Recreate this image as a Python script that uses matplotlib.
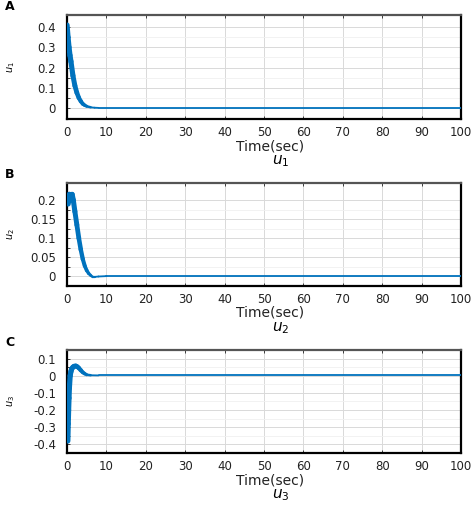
import matplotlib
matplotlib.use("Agg")
import matplotlib.pyplot as plt
from matplotlib.collections import LineCollection
import numpy as np

# control inputs (time in seconds)
t1 = [0, 0.25, 0.5, 0.75, 1, 1.5, 2, 2.5, 3, 3.5, 4, 4.5, 5, 6, 7, 8, 100]
u1 = [0.41, 0.35, 0.30, 0.26, 0.23, 0.16, 0.11, 0.075, 0.05, 0.033, 0.02,
      0.013, 0.008, 0.003, 0.001, 0.0, 0.0]

t2 = [0.3, 0.45, 0.6, 0.75, 0.9, 1.1, 1.3, 1.6, 2, 2.5, 3, 3.5, 4, 4.5, 5,
      5.5, 6, 6.5, 7, 8, 10, 100]
u2 = [0.19, 0.205, 0.215, 0.208, 0.20, 0.207, 0.215, 0.20, 0.17, 0.135,
      0.10, 0.07, 0.045, 0.027, 0.015, 0.007, 0.002, -0.002, -0.002,
      -0.001, 0.0, 0.0]

t3 = [0.2, 0.3, 0.4, 0.5, 0.6, 0.8, 1.0, 1.2, 1.5, 1.8, 2.2, 2.6, 3.0, 3.5,
      4.0, 4.5, 5, 6, 8, 100]
u3 = [-0.38, -0.28, -0.20, -0.13, -0.07, 0.0, 0.025, 0.04, 0.05, 0.055,
      0.057, 0.053, 0.045, 0.032, 0.02, 0.012, 0.006, 0.003, 0.002, 0.002]

# (letter, time, values, end of thick transient [s], ylim, yticks, labels, minor step, name)
series = [
    ("A", t1, u1, 6.0, (-0.055, 0.46), [0, 0.1, 0.2, 0.3, 0.4],
     ["0", "0.1", "0.2", "0.3", "0.4"], 0.05, "u_1"),
    ("B", t2, u2, 7.0, (-0.026, 0.245), [0, 0.05, 0.1, 0.15, 0.2],
     ["0", "0.05", "0.1", "0.15", "0.2"], 0.025, "u_2"),
    ("C", t3, u3, 6.0, (-0.438, 0.122), [-0.4, -0.3, -0.2, -0.1, 0, 0.1],
     ["-0.4", "-0.3", "-0.2", "-0.1", "0", "0.1"], 0.05, "u_3"),
]

xticks = list(range(0, 101, 10))
blue = "#0072BD"

fig = plt.figure(figsize=(4.74, 5.14), dpi=100)
W, H = 474, 514
# axes boxes in pixels: (top, bottom)
boxes = [(15, 119), (183, 286), (350, 453)]
left_px, right_px = 67, 461

for (letter, t, u, tcut, ylim, yt, ytl, minor, name), (top, bot) in zip(series, boxes):
    ax = fig.add_axes([left_px / W, 1 - bot / H, (right_px - left_px) / W,
                       (bot - top) / H])
    t = np.asarray(t, dtype=float)
    u = np.asarray(u, dtype=float)
    # thick transient that thins out towards the steady state
    pts = np.column_stack([t, u])
    segs = np.stack([pts[:-1], pts[1:]], axis=1)
    mid = 0.5 * (t[:-1] + t[1:])
    widths = np.where(mid < tcut, 3.8 - 2.4 * (mid / tcut) ** 2, 1.3)
    lc = LineCollection(segs, colors=blue, linewidths=widths,
                        capstyle="round", joinstyle="round", zorder=3)
    ax.add_collection(lc)
    ax.set_xlim(0, 100)
    ax.set_ylim(*ylim)
    ax.set_xticks(xticks)
    ax.set_xticklabels([str(x) for x in xticks], fontsize=8.5)
    ax.set_yticks(yt)
    ax.set_yticklabels(ytl, fontsize=8.5)
    ax.set_yticks(np.arange(yt[0] - minor, yt[-1] + minor, minor), minor=True)
    ax.grid(True, which="major", color="#d9d9d9", lw=0.7)
    ax.grid(True, which="minor", axis="y", color="#f0f0f0", lw=0.6)
    ax.tick_params(which="both", length=2, width=0.6, direction="in",
                   colors="#222222", top=True)
    ax.tick_params(axis="y", pad=8)
    ax.tick_params(axis="x", pad=5)
    for s in ["left", "bottom", "right"]:
        ax.spines[s].set_linewidth(1.6)
        ax.spines[s].set_color("black")
    ax.spines["top"].set_linewidth(1.6)
    ax.spines["top"].set_color("#555555")

    fig.text(11 / W, 1 - (top + 0.5 * (bot - top)) / H, f"${name}$",
             fontsize=7, rotation=90, ha="center", va="center", family="serif")
    fig.text(5 / W, 1 - (top - 8) / H, letter, fontsize=9, fontweight="bold",
             va="center", ha="left")
    fig.text(270 / W, 1 - (bot + 27) / H, "Time(sec)", fontsize=10,
             ha="center", va="center", color="#222222")
    fig.text(281 / W, 1 - (bot + 42) / H, f"${name}$", fontsize=11,
             ha="center", va="center", family="serif")

fig.savefig("out.png", dpi=100)
